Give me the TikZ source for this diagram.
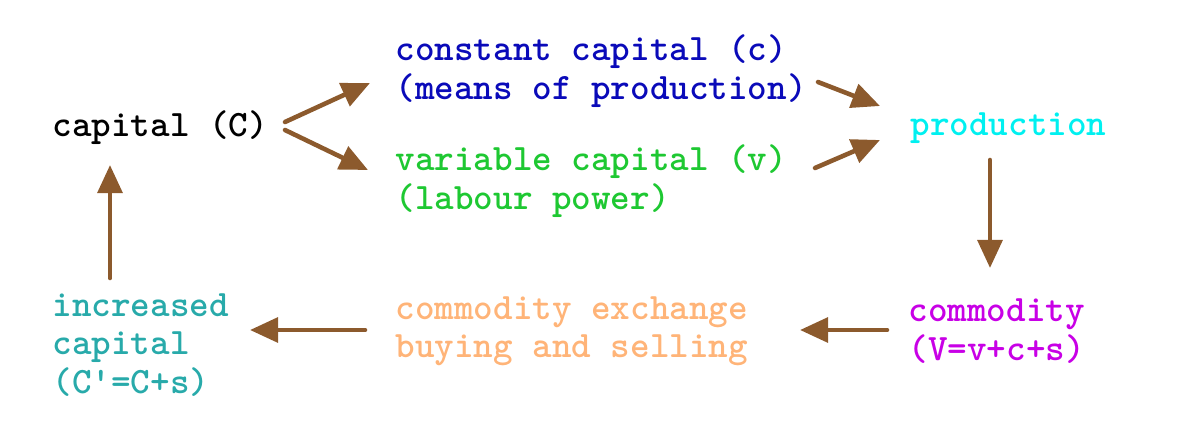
\documentclass[tikz,border=0pt]{standalone}
\usepackage{tikz}
\usetikzlibrary{arrows.meta}

\definecolor{arrbrown}{RGB}{140,90,45}
\definecolor{cblue}{RGB}{10,10,185}
\definecolor{cgreen}{RGB}{30,200,50}
\definecolor{ccyan}{RGB}{0,240,240}
\definecolor{cmagenta}{RGB}{200,0,230}
\definecolor{corange}{RGB}{255,180,120}
\definecolor{cteal}{RGB}{40,170,170}

\tikzset{
  lbl/.style={anchor=west, inner sep=0pt, align=left,
    font=\fontsize{10.6}{10.9}\selectfont\ttfamily\bfseries},
  arr/.style={draw=arrbrown, line width=1.3pt, line cap=round,
    -{Triangle[length=8pt,width=7pt]}}
}

\begin{document}
\begin{tikzpicture}[x=0.01cm,y=-0.01cm]
      \useasboundingbox (0,0) rectangle (1200,424);

      % nodes
      \node[lbl] (cap) at (52,128) {capital (C)};
      \node[lbl, text=cblue] (const) at (395,71) {constant capital (c)\\(means of production)};
      \node[lbl, text=cgreen] (var) at (395,181) {variable capital (v)\\(labour power)};
      \node[lbl, text=ccyan] (prod) at (910,128) {production};
      \node[lbl, text=cmagenta] (comm) at (908,331) {commodity\\(V=v+c+s)};
      \node[lbl, text=corange] (exch) at (395,331) {commodity exchange\\buying and selling};
      \node[lbl, text=cteal] (incr) at (52,345) {increased\\capital\\(C'=C+s)};

      % capital splits
      \draw[arr] ([shift={(233,-6)}]cap.west) -- ([shift={(-25,12)}]const.west);
      \draw[arr] ([shift={(233,2)}]cap.west) -- ([shift={(-27,-11)}]var.west);

      % into production
      \draw[arr] ([shift={(423,11)}]const.west) -- ([shift={(-30,-22)}]prod.west);
      \draw[arr] ([shift={(420,-13)}]var.west) -- ([shift={(-30,12)}]prod.west);

      % the cycle
      \draw[arr] ([shift={(80,32)}]prod.west) -- ([shift={(82,-63)}]comm.west);
      \draw[arr] ([shift={(-21,-1)}]comm.west) -- ([shift={(405,-1)}]exch.west);
      \draw[arr] ([shift={(-30,-1)}]exch.west) -- ([shift={(198,-15)}]incr.west);
      \draw[arr] ([shift={(58,-67)}]incr.west) -- ([shift={(58,37)}]cap.west);
\end{tikzpicture}
\end{document}
